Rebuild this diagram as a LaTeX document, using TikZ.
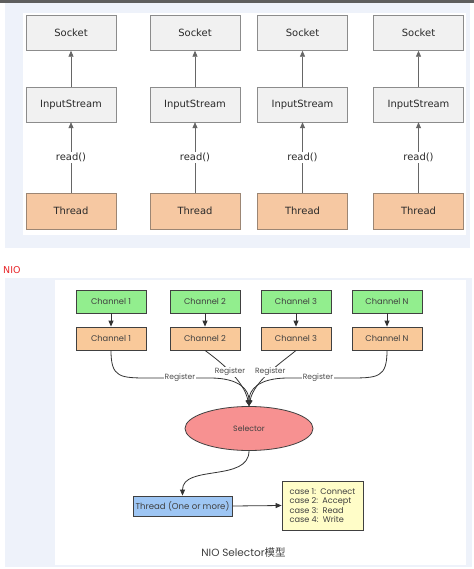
\documentclass[tikz,border=0pt]{standalone}
\usepackage{fontspec}
\setmainfont{DejaVu Sans}
\newfontfamily\gothic{Poppins}
\newfontfamily\cjk{Noto Sans CJK SC}
\usetikzlibrary{arrows.meta,shapes.geometric}
\definecolor{topbar}{HTML}{5E5E5E}
\definecolor{panelbg}{HTML}{EEF2FA}
\definecolor{boxgray}{HTML}{F1F1F1}
\definecolor{boxline}{HTML}{8C8C8C}
\definecolor{threadfill}{HTML}{F6C8A2}
\definecolor{threadline}{HTML}{9C8674}
\definecolor{txtdark}{HTML}{2A2A2A}
\definecolor{chgreen}{HTML}{92EE8E}
\definecolor{chorange}{HTML}{F9C99A}
\definecolor{selred}{HTML}{F79191}
\definecolor{thblue}{HTML}{9EC6F4}
\definecolor{caseyellow}{HTML}{FFFDC8}
\definecolor{niored}{HTML}{E8262A}
\tikzset{
  graybox/.style={draw=boxline, fill=boxgray, minimum width=90bp, minimum height=35bp, inner sep=0pt, text=txtdark, font=\fontsize{10}{12}\selectfont},
  thbox/.style={draw=threadline, fill=threadfill, minimum width=90bp, minimum height=36bp, inner sep=0pt, text=txtdark, font=\fontsize{10}{12}\selectfont},
  toparrow/.style={draw=gray!80!black, line width=0.7bp, -{Triangle[width=5bp,length=6bp]}},
  readlbl/.style={fill=white, inner sep=1.5bp, text=txtdark, font=\fontsize{10}{12}\selectfont},
  greenbox/.style={draw=black!75, fill=chgreen, minimum width=70bp, minimum height=23bp, inner sep=0pt, line width=0.8bp, text=black!75, font=\gothic\fontsize{8.3}{10}\selectfont},
  orangebox/.style={draw=black!75, fill=chorange, minimum width=70bp, minimum height=23bp, inner sep=0pt, line width=0.8bp, text=black!75, font=\gothic\fontsize{8.3}{10}\selectfont},
  botarrow/.style={draw=black!80, line width=0.8bp, -{Triangle[width=5bp,length=6bp]}},
  reglbl/.style={fill=white, inner sep=1bp, text=black!70, font=\gothic\fontsize{7.6}{9}\selectfont},
}
\begin{document}
\begin{tikzpicture}[x=1bp,y=-1bp]
\useasboundingbox (0,0) rectangle (474,569);
\fill[white] (0,0) rectangle (474,569);
% backgrounds
\fill[topbar] (0,0) rectangle (474,3);
\fill[panelbg] (5,3) rectangle (470,248);
\fill[white] (23,13) rectangle (466,235);
\fill[panelbg] (5,278) rectangle (472,567);
\fill[white] (55,280) rectangle (466,565);
\node[anchor=west, text=niored, inner sep=0pt, font=\fontsize{9.5}{11}\selectfont] (nio) at (3,270) {NIO};

% top: BIO model
\foreach \i/\x in {1/71,2/195,3/302.5,4/418.5}{
  \node[graybox] (s\i) at (\x,33) {Socket};
  \node[graybox] (in\i) at (\x,104.5) {InputStream};
  \node[thbox] (t\i) at (\x,211) {Thread};
  \draw[toparrow] (in\i.north) -- (s\i.south);
  \draw[toparrow] (t\i.north) -- node[readlbl] (r\i) {read()} (in\i.south);
}

% bottom: NIO selector
\foreach \i/\x/\t in {1/111/Channel 1,2/205/Channel 2,3/296/Channel 3,4/387/Channel N}{
  \node[greenbox] (g\i) at (\x,301.5) {\t};
  \node[orangebox] (o\i) at (\x,338.5) {\t};
  \draw[botarrow] (g\i.south) -- (o\i.north);
}
\node[ellipse, draw=black!75, fill=selred, line width=0.8bp, minimum width=128bp, minimum height=44bp, inner sep=0pt, text=black!75, font=\gothic\fontsize{7.8}{9}\selectfont] (sel) at (249,428.5) {Selector};

\draw[botarrow] (o1.south) .. controls (111,378) and (120,378) .. (150,378)
  -- node[reglbl] (rg1) {Register} (210,378) .. controls (240,378) and (249,390) .. (sel.north);
\draw[botarrow] (o4.south) .. controls (387,378) and (378,378) .. (348,378)
  -- node[reglbl] (rg4) {Register} (288,378) .. controls (258,378) and (249,390) .. (sel.north);
\draw[botarrow] (o2.south) .. controls (218,360) and (244,380) .. node[reglbl, pos=0.5] (rg2) {Register} (sel.north);
\draw[botarrow] (o3.south) .. controls (285,360) and (254,380) .. node[reglbl, pos=0.5] (rg3) {Register} (sel.north);

\node[draw=black!75, fill=thblue, line width=0.8bp, minimum width=99bp, minimum height=20bp, inner sep=0pt, text=black!75, font=\gothic\fontsize{8.6}{10}\selectfont] (th) at (182.5,506) {Thread (One or more)};
\node[draw=black!75, fill=caseyellow, line width=0.8bp, minimum width=81bp, minimum height=49bp, inner sep=0pt, text=black!75, align=left, font=\gothic\fontsize{8.2}{9.3}\selectfont] (cases) at (322.5,505.5)
  {case 1:\ \ Connect\\case 2:\ \ Accept\\case 3:\ \ Read\\case 4:\ \ Write};
\draw[botarrow] (sel.south) to[out=-90,in=90] (th.north);
\draw[botarrow] (th.east) -- (cases.west);

\node[text=black!75, inner sep=0pt, font=\fontsize{10.5}{12}\selectfont] (cap) at (243.5,553) {\gothic NIO Selector\cjk 模型};
\end{tikzpicture}
\end{document}
